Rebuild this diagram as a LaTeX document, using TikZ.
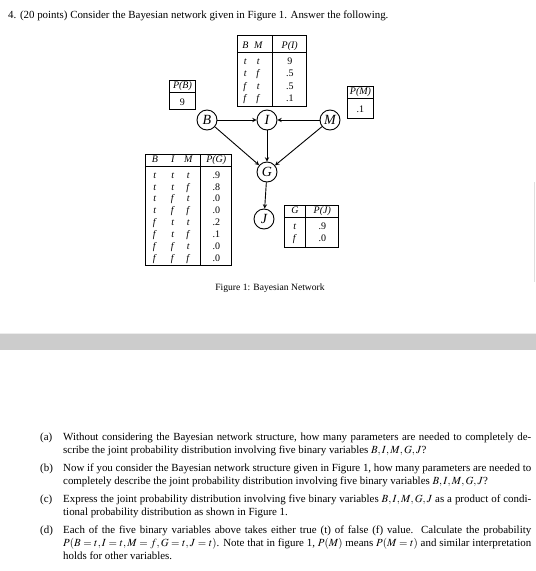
\documentclass[tikz,border=0pt]{standalone}
\usepackage{mathptmx}
\usepackage{fontspec}
\setmainfont{Liberation Serif}
\usepackage{array}
\newcolumntype{C}[1]{>{\centering\arraybackslash}p{#1}}
\setlength{\tabcolsep}{0pt}
\setlength{\arrayrulewidth}{0.8pt}
\newcommand{\tv}{\textit{t}}
\newcommand{\fv}{\textit{f}}
\newcommand{\qfont}{\fontsize{10.9}{13}\selectfont}

\tikzset{
  var/.style={draw, circle, line width=0.9pt, minimum size=20pt, inner sep=0pt,
    font=\fontsize{14}{14}\selectfont\itshape},
  cpt/.style={draw, line width=0.9pt, inner sep=0pt, anchor=north west,
    font=\fontsize{10}{11.9}\selectfont},
  link/.style={->, >=stealth, line width=0.9pt},
  item/.style={anchor=base west, inner sep=0pt, text width=468pt, align=justify, font=\qfont},
  lbl/.style={anchor=base west, inner sep=0pt, font=\qfont},
}

\begin{document}
\begin{tikzpicture}[x=1pt, y=-1pt]
    \useasboundingbox (0,0) rectangle (536,571);

    \node[lbl] (title) at (8,18) {4. (20 points) Consider the Bayesian network given in Figure 1. Answer the following.};

    % network
    \node[var] (B) at (207,120) {B};
    \node[var] (I) at (267,120) {I};
    \node[var] (M) at (330,120) {M};
    \node[var] (G) at (267,172) {G};
    \node[var] (J) at (264,219) {J};

    \draw[link] (B) -- (I);
    \draw[link] (M) -- (I);
    \draw[link] (B) -- (G);
    \draw[link] (I) -- (G);
    \draw[link] (M) -- (G);
    \draw[link] (G) -- (J);

    % probability tables
    \node[cpt] (cptB) at (169,80) {\renewcommand{\arraystretch}{1.0}%
      \begin{tabular}{C{26pt}}
        \textit{P(B)} \\ \hline
        \rule{0pt}{12pt}9\rule[-4pt]{0pt}{0pt} \\
      \end{tabular}};
    \node[cpt] (cptM) at (347,86) {\renewcommand{\arraystretch}{1.0}%
      \begin{tabular}{C{26pt}}
        \textit{P(M)} \\ \hline
        \rule{0pt}{13pt}.1\rule[-6pt]{0pt}{0pt} \\
      \end{tabular}};
    \node[cpt] (cptI) at (237,35) {\renewcommand{\arraystretch}{1.05}%
      \begin{tabular}{C{16pt}C{10pt}@{\hspace{9pt}}|C{33pt}}
        \rule{0pt}{13pt}\textit{B} & \textit{M} & \textit{P(I)}\rule[-4pt]{0pt}{0pt} \\ \hline
        \rule{0pt}{11pt}\tv & \tv & 9 \\
        \tv & \fv & .5 \\
        \fv & \tv & .5 \\
        \fv & \fv & .1\rule[-5pt]{0pt}{0pt} \\
      \end{tabular}};
    \node[cpt] (cptG) at (145,154) {\renewcommand{\arraystretch}{1.0}%
      \begin{tabular}{C{19pt}C{17pt}C{14pt}@{\hspace{5pt}}|C{30pt}}
        \textit{B} & \textit{I} & \textit{M} & \textit{P(G)} \\ \hline
        \rule{0pt}{11pt}\tv & \tv & \tv & .9 \\
        \tv & \tv & \fv & .8 \\
        \tv & \fv & \tv & .0 \\
        \tv & \fv & \fv & .0 \\
        \fv & \tv & \tv & .2 \\
        \fv & \tv & \fv & .1 \\
        \fv & \fv & \tv & .0 \\
        \fv & \fv & \fv & .0\rule[-4pt]{0pt}{0pt} \\
      \end{tabular}};
    \node[cpt] (cptJ) at (284,205) {\renewcommand{\arraystretch}{1.0}%
      \begin{tabular}{C{21pt}|C{32pt}}
        \textit{G} & \textit{P(J)} \\ \hline
        \rule{0pt}{11pt}\tv & .9 \\
        \fv & .0\rule[-6pt]{0pt}{0pt} \\
      \end{tabular}};

    \node[lbl, anchor=base, font=\fontsize{9.6}{12}\selectfont] (caption) at (270,290) {Figure 1: Bayesian Network};

    % page break band
    \fill[gray!40] (0,334) rectangle (536,350);
    \draw[gray!15] (0,333.5) -- (536,333.5);
    \draw[gray!25, line width=1pt] (534.5,182) -- (534.5,282);

    % questions
    \node[lbl] (la) at (40,440) {(a)};
    \node[item] (qa) at (63,440) {Without considering the Bayesian network structure, how many parameters are needed to completely de-\linebreak scribe the joint probability distribution involving five binary variables $B, I, M, G, J$?};
    \node[lbl] (lb) at (40,471) {(b)};
    \node[item] (qb) at (63,471) {Now if you consider the Bayesian network structure given in Figure 1, how many parameters are needed to\linebreak completely describe the joint probability distribution involving five binary variables $B, I, M, G, J$?};
    \node[lbl] (lc) at (40,502) {(c)};
    \node[item] (qc) at (63,502) {Express the joint probability distribution involving five binary variables $B, I, M, G, J$ as a product of condi-\linebreak tional probability distribution as shown in Figure 1.};
    \node[lbl] (ld) at (40,533) {(d)};
    \node[item] (qd) at (63,533) {Each of the five binary variables above takes either true (t) of false (f) value.\ \ Calculate the probability\linebreak $P(B = t, I = t, M = f, G = t, J = t)$. Note that in figure 1, $P(M)$ means $P(M = t)$ and similar interpretation\linebreak holds for other variables.};
\end{tikzpicture}
\end{document}
